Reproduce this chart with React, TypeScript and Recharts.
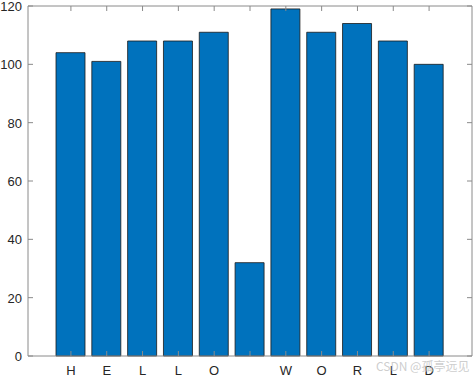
import React from "react";
import { BarChart, Bar, XAxis, YAxis } from "recharts";

// letters shown under the bars (the space has no label)
const letters = ["H", "E", "L", "L", "O", "", "W", "O", "R", "L", "D"];
// ASCII codes of "hello world"
const codes = [104, 101, 108, 108, 111, 32, 119, 111, 114, 108, 100];
const yTicks = [0, 20, 40, 60, 80, 100, 120];

const data = letters.map((l, i) => ({ pos: i + 1, label: l, value: codes[i] }));

const AXIS = "#8a8a8a";
const TEXT = "#262626";
const FONT = "'Liberation Sans', Arial, sans-serif";

const BottomTick = (props: any) => {
  const { x, y, index } = props;
  return (
    <g>
      <line x1={x} x2={x} y1={y} y2={y - 5} stroke={AXIS} />
      <text x={x} y={y + 19} textAnchor="middle" fontSize={13} fill={TEXT} fontFamily={FONT}>
        {letters[index]}
      </text>
    </g>
  );
};

const TopTick = (props: any) => {
  const { x, y } = props;
  return <line x1={x} x2={x} y1={y} y2={y + 5} stroke={AXIS} />;
};

const LeftTick = (props: any) => {
  const { x, y, payload } = props;
  return (
    <g>
      <line x1={x} x2={x + 5} y1={y} y2={y} stroke={AXIS} />
      <text x={x - 6} y={y + 5} textAnchor="end" fontSize={13} fill={TEXT} fontFamily={FONT}>
        {payload.value}
      </text>
    </g>
  );
};

const RightTick = (props: any) => {
  const { x, y } = props;
  return <line x1={x} x2={x - 5} y1={y} y2={y} stroke={AXIS} />;
};

export default function App() {
  return (
    <div style={{ position: "fixed", left: 0, top: 0, width: 474, height: 378, background: "#fff" }}>
      <BarChart
        width={474}
        height={378}
        data={data}
        margin={{ top: 5, right: 1, bottom: 0, left: 0 }}
      >
        <XAxis
          xAxisId="bottom"
          dataKey="pos"
          type="category"
          height={22}
          padding={{ left: 25, right: 25 }}
          tickSize={0}
          tickMargin={0}
          tickLine={false}
          axisLine={{ stroke: AXIS }}
          tick={<BottomTick />}
          interval={0}
        />
        <XAxis
          xAxisId="top"
          dataKey="pos"
          type="category"
          orientation="top"
          height={1}
          padding={{ left: 25, right: 25 }}
          tickSize={0}
          tickMargin={0}
          tickLine={false}
          axisLine={{ stroke: AXIS }}
          tick={<TopTick />}
          interval={0}
        />
        <YAxis
          yAxisId="left"
          width={28}
          domain={[0, 120]}
          ticks={yTicks}
          tickSize={0}
          tickMargin={0}
          tickLine={false}
          axisLine={{ stroke: AXIS }}
          tick={<LeftTick />}
          interval={0}
        />
        <YAxis
          yAxisId="right"
          orientation="right"
          width={1}
          domain={[0, 120]}
          ticks={yTicks}
          tickSize={0}
          tickMargin={0}
          tickLine={false}
          axisLine={{ stroke: AXIS }}
          tick={<RightTick />}
          interval={0}
        />
        <Bar
          xAxisId="bottom"
          yAxisId="left"
          dataKey="value"
          fill="#0072BD"
          stroke="#1a1a1a"
          strokeWidth={0.8}
          barSize={29}
          isAnimationActive={false}
        />
        {/* invisible copy so the top and right axes get drawn */}
        <Bar
          xAxisId="top"
          yAxisId="right"
          dataKey="value"
          fill="none"
          stroke="none"
          barSize={1}
          isAnimationActive={false}
        />
      </BarChart>
      <div
        style={{
          position: "absolute",
          left: 376,
          top: 357,
          fontSize: 12,
          color: "rgba(200,200,200,0.9)",
          fontFamily: "'Noto Sans CJK SC', sans-serif",
          whiteSpace: "nowrap",
        }}
      >
        CSDN @孤亭远见
      </div>
    </div>
  );
}
